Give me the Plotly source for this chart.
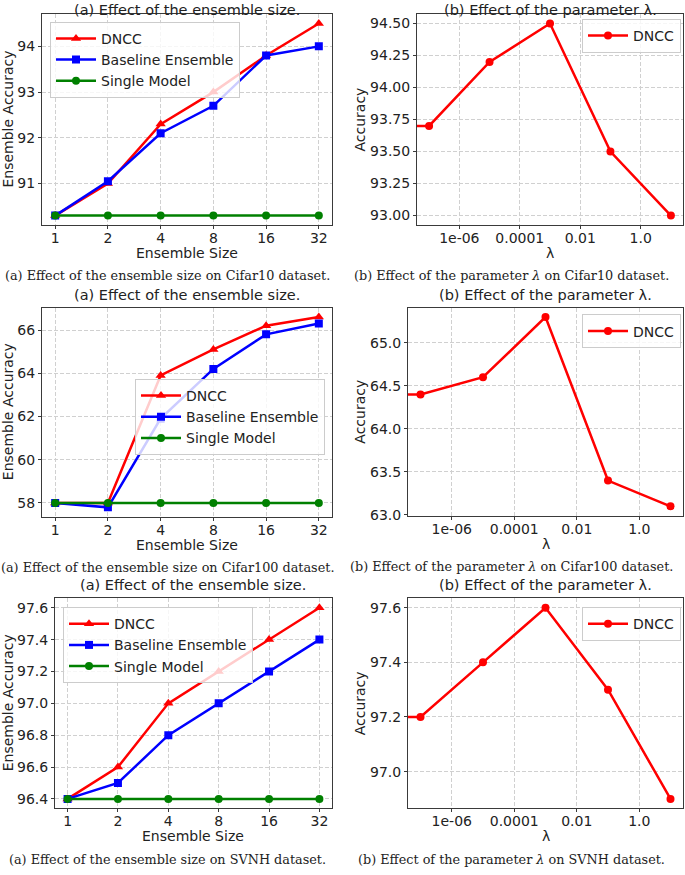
import plotly.graph_objects as go

# ---- data ----
ens_sizes = [1, 2, 4, 8, 16, 32]
ens_ticks = ["1", "2", "4", "8", "16", "32"]

# lambda = 0 is clipped far to the left on a log axis, as in matplotlib
lambdas = [1e-30, 1e-7, 1e-5, 1e-3, 1e-1, 10]
lam_tickvals = [1e-6, 1e-4, 1e-2, 1]
lam_ticktext = ["1e-06", "0.0001", "0.01", "1.0"]

cifar10_dncc = [90.3, 91.0, 92.3, 93.0, 93.8, 94.5]
cifar10_base = [90.3, 91.05, 92.1, 92.7, 93.8, 94.0]
cifar10_single = [90.3, 90.3, 90.3, 90.3, 90.3, 90.3]
cifar10_lam = [93.7, 93.7, 94.2, 94.5, 93.5, 93.0]

cifar100_dncc = [58.0, 58.0, 63.9, 65.1, 66.2, 66.6]
cifar100_base = [58.0, 57.8, 61.9, 64.2, 65.8, 66.3]
cifar100_single = [58.0, 58.0, 58.0, 58.0, 58.0, 58.0]
cifar100_lam = [64.4, 64.4, 64.6, 65.3, 63.4, 63.1]

svnh_dncc = [96.4, 96.6, 97.0, 97.2, 97.4, 97.6]
svnh_base = [96.4, 96.5, 96.8, 97.0, 97.2, 97.4]
svnh_single = [96.4, 96.4, 96.4, 96.4, 96.4, 96.4]
svnh_lam = [97.2, 97.2, 97.4, 97.6, 97.3, 96.9]

datasets = ["Cifar10", "Cifar100", "SVNH"]

W, H = 685, 875
RED, BLUE, GREEN = "#ff0000", "#0000ff", "#008000"
FONT = "DejaVu Sans"
SERIF = "DejaVu Serif"

# pixel boxes: left, right, top, bottom
boxes = [
    (42, 332, 14, 227), (417, 683, 14, 227),
    (42, 332, 310, 521), (408, 683, 310, 520),
    (55, 332, 603, 815), (408, 683, 603, 815),
]
yranges = [(90.09, 94.71), (92.925, 94.575),
           (57.36, 67.04), (62.99, 65.41),
           (96.34, 97.66), (96.865, 97.635)]
yticks = [dict(dtick=1, tickformat=".0f"), dict(dtick=0.25, tickformat=".2f"),
          dict(dtick=2, tickformat=".0f"), dict(dtick=0.5, tickformat=".1f"),
          dict(dtick=0.2, tickformat=".1f"), dict(dtick=0.2, tickformat=".1f")]
# legend top-left corners in pixels
legend_pos = [(50, 22), (582, 19), (135, 382), (582, 317), (63, 612), (582, 612)]

fig = go.Figure()

ens_series = [(cifar10_dncc, cifar10_base, cifar10_single),
              (cifar100_dncc, cifar100_base, cifar100_single),
              (svnh_dncc, svnh_base, svnh_single)]
lam_series = [cifar10_lam, cifar100_lam, svnh_lam]


def px_x(p):
    return p / W


def px_y(p):
    return 1 - p / H


def ax_style():
    return dict(showline=True, mirror=True, linecolor="#3a3a3a", linewidth=1,
                ticks="outside", ticklen=3, tickcolor="#3a3a3a",
                showgrid=True, gridcolor="#d0d0d0", griddash="4px,2px", gridwidth=1,
                zeroline=False, tickfont=dict(family=FONT, size=14, color="#222"))


annotations = []
for i in range(6):
    l, r, t, b = boxes[i]
    sfx = "" if i == 0 else str(i + 1)
    xa, ya = "x" + sfx, "y" + sfx
    lg = "legend" + sfx
    row, col = divmod(i, 2)
    if col == 0:
        dn, bs, sg = ens_series[row]
        fig.add_trace(go.Scatter(x=ens_sizes, y=dn, name="DNCC", mode="lines+markers",
                                 line=dict(color=RED, width=2.5),
                                 marker=dict(symbol="triangle-up", size=9, color=RED),
                                 xaxis=xa, yaxis=ya, legend=lg))
        fig.add_trace(go.Scatter(x=ens_sizes, y=bs, name="Baseline Ensemble", mode="lines+markers",
                                 line=dict(color=BLUE, width=2.5),
                                 marker=dict(symbol="square", size=8, color=BLUE),
                                 xaxis=xa, yaxis=ya, legend=lg))
        fig.add_trace(go.Scatter(x=ens_sizes, y=sg, name="Single Model", mode="lines+markers",
                                 line=dict(color=GREEN, width=2.5),
                                 marker=dict(symbol="circle", size=8, color=GREEN),
                                 xaxis=xa, yaxis=ya, legend=lg))
        xaxis = dict(type="log", range=[-0.25 * 0.30103, 5.25 * 0.30103],
                     tickvals=ens_sizes, ticktext=ens_ticks)
        title = "(a) Effect of the ensemble size."
        xtitle, ytitle = "Ensemble Size", "Ensemble Accuracy"
        cap = "(a) Effect of the ensemble size on %s dataset." % datasets[row]
        cap_x = 167
        ytitle_x = 8
    else:
        fig.add_trace(go.Scatter(x=lambdas, y=lam_series[row], name="DNCC", mode="lines+markers",
                                 line=dict(color=RED, width=2.5),
                                 marker=dict(symbol="circle", size=8, color=RED),
                                 xaxis=xa, yaxis=ya, legend=lg))
        xaxis = dict(type="log", range=[-7.4, 1.4],
                     tickvals=lam_tickvals, ticktext=lam_ticktext)
        title = "(b) Effect of the parameter λ."
        xtitle, ytitle = "λ", "Accuracy"
        cap = "(b) Effect of the parameter <i>λ</i> on %s dataset." % datasets[row]
        cap_x = 512
        ytitle_x = 360

    xaxis.update(ax_style())
    xaxis.update(domain=[px_x(l), px_x(r)], anchor=ya, ticklabelstandoff=-3)
    yaxis = ax_style()
    yaxis.update(domain=[px_y(b), px_y(t)], anchor=xa, range=list(yranges[i]), **yticks[i])
    fig.update_layout({"xaxis" + sfx: xaxis, "yaxis" + sfx: yaxis})

    lx, ly = legend_pos[i]
    fig.update_layout({lg: dict(x=px_x(lx), y=px_y(ly), xanchor="left", yanchor="top",
                                bgcolor="rgba(255,255,255,0.8)", bordercolor="#cccccc",
                                borderwidth=1, font=dict(family=FONT, size=14, color="#222"),
                                tracegroupgap=0, itemwidth=40)})

    cx = (l + r) / 2
    if row == 0:
        ttl = dict(y=1, yanchor="top")
    else:
        ttl = dict(y=px_y(t - 3), yanchor="bottom")
    annotations.append(dict(text=title, x=px_x(cx), xref="paper", yref="paper",
                            xanchor="center", showarrow=False,
                            font=dict(family=FONT, size=14.5, color="#222"), **ttl))
    annotations.append(dict(text=xtitle, x=px_x(cx), y=px_y(b + 28), xref="paper", yref="paper",
                            xanchor="center", yanchor="middle", showarrow=False,
                            font=dict(family=FONT, size=14, color="#222")))
    annotations.append(dict(text=ytitle, x=px_x(ytitle_x), y=px_y((t + b) / 2), xref="paper",
                            yref="paper", xanchor="center", yanchor="middle", showarrow=False,
                            textangle=-90, font=dict(family=FONT, size=14, color="#222")))
    annotations.append(dict(text=cap, x=px_x(cap_x), y=px_y(b + 51), xref="paper", yref="paper",
                            xanchor="center", yanchor="middle", showarrow=False,
                            font=dict(family=SERIF, size=12.8, color="#222")))

fig.update_layout(width=W, height=H, margin=dict(l=0, r=0, t=0, b=0),
                  plot_bgcolor="white", paper_bgcolor="white",
                  annotations=annotations, showlegend=True)

fig.write_html("out.html", config={"displayModeBar": False},
               post_script="document.body.style.margin = '0';")
